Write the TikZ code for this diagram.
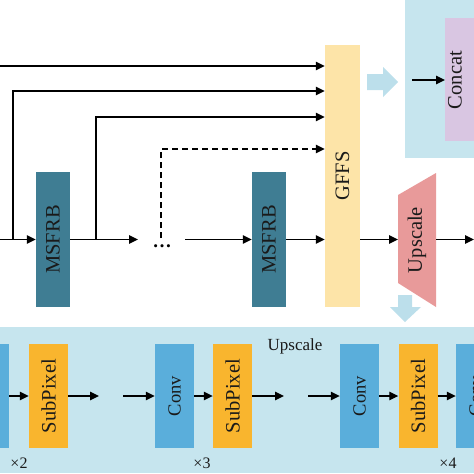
\documentclass[tikz,border=0pt]{standalone}
\usepackage{fontspec}
\setmainfont{Liberation Serif}
\usetikzlibrary{arrows.meta}
\definecolor{msfrbc}{HTML}{3F7D93}
\definecolor{gffsc}{HTML}{FDE4A8}
\definecolor{upc}{HTML}{E89A9A}
\definecolor{lbc}{HTML}{C6E5EE}
\definecolor{lbarrow}{HTML}{BCDFEB}
\definecolor{catc}{HTML}{D9C6E2}
\definecolor{convc}{HTML}{5AAEDB}
\definecolor{spc}{HTML}{F9B52E}
\definecolor{txt}{HTML}{1A1A1A}
\tikzset{
  arr/.style={line width=1.3pt,-{Triangle[length=9pt,width=8.5pt]}},
  blk/.style={draw=none,inner sep=0pt,minimum width=#1},
  vlab/.style={rotate=90,text=txt,font=\fontsize{20.5}{20.5}\selectfont},
  clab/.style={rotate=90,text=txt,font=\fontsize{18.5}{18.5}\selectfont},
  msfrb/.style={blk=34pt,minimum height=135pt,fill=msfrbc},
  convb/.style={blk=39pt,minimum height=104pt,fill=convc},
  spb/.style={blk=39pt,minimum height=104pt,fill=spc},
}
\begin{document}
\begin{tikzpicture}[x=1pt,y=-1pt]
\useasboundingbox (0,0) rectangle (474,474);
% top-right panel
\node[blk=75pt,minimum height=163pt,fill=lbc,anchor=north west] (catbg) at (405,-5) {};
\node[blk=35pt,minimum height=123pt,fill=catc,anchor=north west] (concat) at (445,18) {};
\node[vlab] (catlab) at (455,80) {Concat};
\coordinate (catin) at (412,80);
\draw[arr] (catin) -- (catin -| concat.west);
% light blue arrows
\fill[lbarrow] (367,74) -- (383,74) -- (383,67) -- (398,82) -- (383,97) -- (383,90) -- (367,90) -- cycle;
% bottom panel
\node[blk=485pt,minimum height=146pt,fill=lbc,anchor=north west] (upbg) at (-5,327) {};
\fill[lbarrow] (398,295) -- (412,295) -- (412,307) -- (421,307) -- (405,322) -- (390,307) -- (398,307) -- cycle;
% main blocks
\node[msfrb] (m1) at (53,239.5) {};
\node[vlab] at (m1) {MSFRB};
\node[msfrb] (m2) at (269,239.5) {};
\node[vlab] at (m2) {MSFRB};
\node[blk=35pt,minimum height=262pt,fill=gffsc] (gffs) at (342.5,176) {};
\node[vlab] at (gffs) {GFFS};
\fill[upc] (398,195) -- (436,173) -- (436,307) -- (398,283) -- cycle;
\node[vlab] (uplab) at (417,240) {Upscale};
\coordinate (upW) at (398,239.5);
\coordinate (upE) at (436,239.5);
\coordinate (out) at (474,239.5);
% top connectors
\coordinate (t0) at (-5,66);
\draw[arr] (t0) -- (t0 -| gffs.west);
\coordinate (b1) at (13,239.5);
\coordinate (t1) at (13,91);
\draw[arr] (b1) -- (t1) -- (t1 -| gffs.west);
\coordinate (b2) at (96,239.5);
\coordinate (t2) at (96,117);
\draw[arr] (b2) -- (t2) -- (t2 -| gffs.west);
\coordinate (b3) at (161,238);
\coordinate (t3) at (161,149);
\draw[arr,dash pattern=on 6pt off 4pt] (b3) -- (t3) -- (t3 -| gffs.west);
% main line
\coordinate (in) at (-5,239.5);
\draw[arr] (in) -- (m1.west);
\coordinate (c1) at (138,239.5);
\draw[arr] (m1.east) -- (c1);
\node[anchor=base,inner sep=0pt,font=\fontsize{19}{19}\bfseries] (dots) at (162,247) {…};
\coordinate (c2) at (185,239.5);
\draw[arr] (c2) -- (m2.west);
\draw[arr] (m2.east) -- (m2.east -| gffs.west);
\draw[arr] (m2.east -| gffs.east) -- (upW);
\draw[arr] (upE) -- (out);
% bottom row
\node[text=txt,font=\fontsize{17}{17}\selectfont] (uptitle) at (295,346) {Upscale};
\node[convb] (cv0) at (-10.5,396) {};
\node[spb] (sp1) at (48.5,396) {};
\node[vlab] at (sp1) {SubPixel};
\node[convb] (cv1) at (174.5,396) {};
\node[clab] at (cv1) {Conv};
\node[spb] (sp2) at (232.5,396) {};
\node[vlab] at (sp2) {SubPixel};
\node[convb] (cv2) at (359.5,396) {};
\node[clab] at (cv2) {Conv};
\node[spb] (sp3) at (418,396) {};
\node[vlab] at (sp3) {SubPixel};
\node[convb] (cv3) at (475.5,396) {};
\node[clab] at (cv3) {Conv};
\coordinate (e1) at (99,396);
\coordinate (s1) at (123,396);
\coordinate (e2) at (284,396);
\coordinate (s2) at (308,396);
\draw[arr] (cv0.east) -- (sp1.west);
\draw[arr] (sp1.east) -- (e1);
\draw[arr] (s1) -- (cv1.west);
\draw[arr] (cv1.east) -- (sp2.west);
\draw[arr] (sp2.east) -- (e2);
\draw[arr] (s2) -- (cv2.west);
\draw[arr] (cv2.east) -- (sp3.west);
\draw[arr] (sp3.east) -- (cv3.west);
\node[text=txt,font=\fontsize{16}{16}\selectfont] (x2) at (19,463) {×2};
\node[text=txt,font=\fontsize{16}{16}\selectfont] (x3) at (202,463) {×3};
\node[text=txt,font=\fontsize{16}{16}\selectfont] (x4) at (448,463) {×4};
\end{tikzpicture}
\end{document}
